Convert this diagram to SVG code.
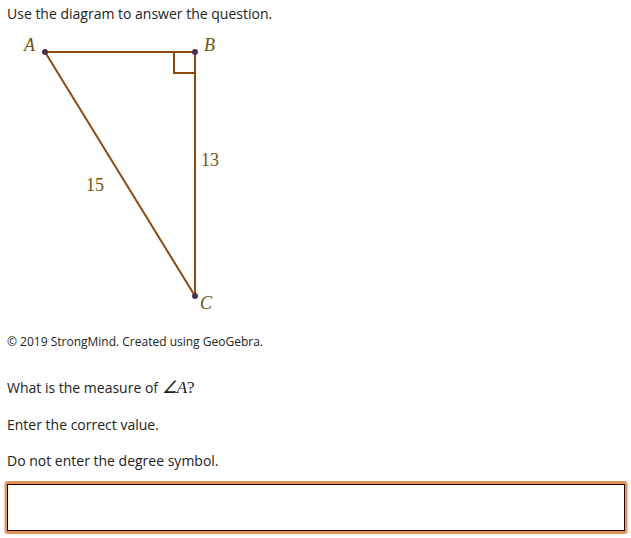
<svg xmlns="http://www.w3.org/2000/svg" width="631" height="538" viewBox="0 0 631 538">
<style>
.t{font-family:"Open Sans","Noto Sans",sans-serif;font-size:14px;fill:#222}
.s{font-family:"Open Sans","Noto Sans",sans-serif;font-size:12px;fill:#222}
.lbl{font-family:"Liberation Serif","DejaVu Serif",serif;font-size:18px;fill:#6e5410}
.it{font-style:italic}
.edge{stroke:#8a4a10;stroke-width:2;fill:none}
.pt{fill:#4a3050}
</style>
<rect width="631" height="538" fill="#fff"/>
<text class="t" x="7" y="19">Use the diagram to answer the question.</text>
<g id="connectors">
<line class="edge" x1="45" y1="52" x2="195" y2="52"/>
<line class="edge" x1="195" y1="52" x2="195" y2="296"/>
<line class="edge" x1="45" y1="52" x2="195" y2="296"/>
<polyline class="edge" points="174,52 174,73 195,73"/>
</g>
<g id="A"><circle class="pt" cx="45" cy="52" r="3"/><text class="lbl it" x="24" y="51">A</text></g>
<g id="B"><circle class="pt" cx="195" cy="52" r="3"/><text class="lbl it" x="204" y="51">B</text></g>
<g id="C"><circle class="pt" cx="195" cy="296" r="3"/><text class="lbl it" x="200" y="309">C</text></g>
<text class="lbl" x="201" y="166">13</text>
<text class="lbl" x="86" y="191">15</text>
<text class="s" x="7" y="346">© 2019 StrongMind. Created using GeoGebra.</text>
<text class="t" x="7" y="393">What is the measure of <tspan font-family="Liberation Serif,serif" font-size="17" font-style="italic">∠A</tspan><tspan font-family="Liberation Serif,serif" font-size="17">?</tspan></text>
<text class="t" x="7" y="430">Enter the correct value.</text>
<text class="t" x="7" y="466">Do not enter the degree symbol.</text>
<g id="input">
<rect x="6" y="482.5" width="620" height="50" rx="2" fill="none" stroke="#e0955a" stroke-width="3"/>
<rect x="7.5" y="484.5" width="617" height="46" fill="#fff" stroke="#200" stroke-width="1"/>
</g>
</svg>
